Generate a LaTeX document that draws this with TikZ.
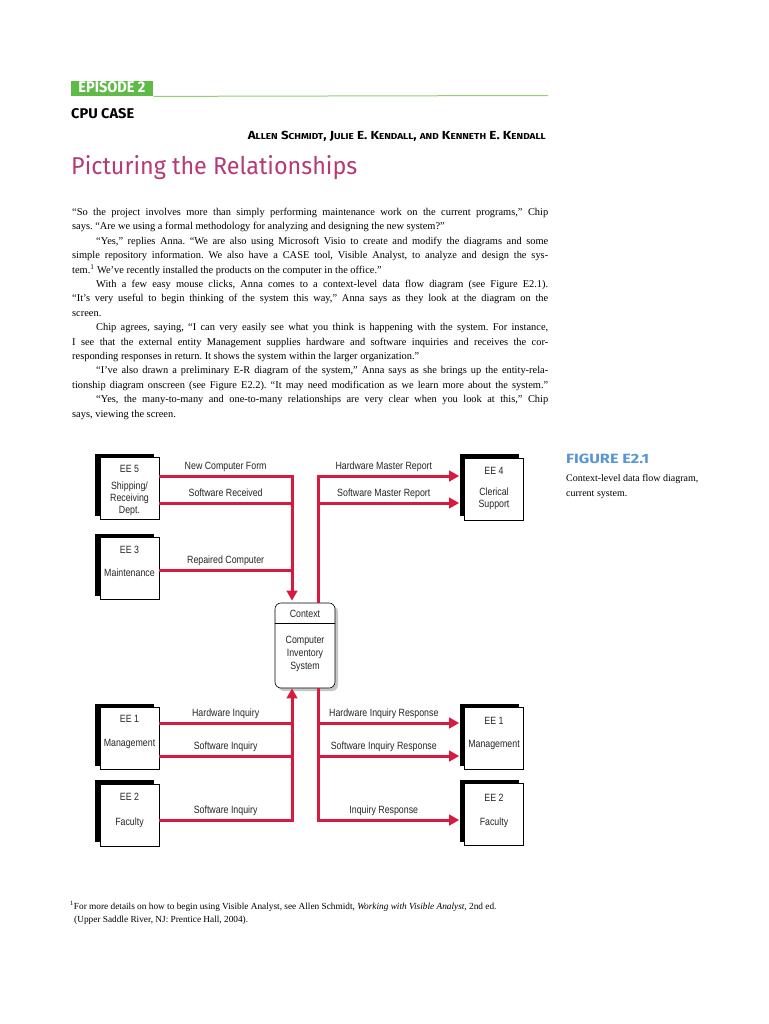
\documentclass[tikz,border=0pt]{standalone}
\usepackage{fontspec}
\setmainfont{Liberation Serif}
\newfontfamily\hfont{Fira Sans}
\newfontfamily\dfont[FakeStretch=0.84]{Liberation Sans}
\usetikzlibrary{arrows.meta,shadows}
\definecolor{flowred}{RGB}{214,28,62}
\definecolor{epgreen}{RGB}{96,186,72}
\definecolor{eplight}{RGB}{150,205,120}
\definecolor{titlepink}{RGB}{182,58,120}
\definecolor{figblue}{RGB}{88,150,212}
\frenchspacing
\newcommand\fsc[1]{{\fontsize{7.4}{9}\selectfont #1}}
\newcommand\jline[1]{\hbox to 476pt{#1}}
\newcommand\iline[1]{\hbox to 476pt{\hskip 24pt #1}}
\newcommand\eline[1]{\hbox{#1}}
\begin{document}
\begin{tikzpicture}[x=1pt,y=-1pt,
  flow/.style={draw=flowred, line width=3pt, line join=miter},
  arr/.style={-{Triangle[length=10pt,width=10.5pt]}},
  entity/.style={draw, line width=0.6pt, fill=white, minimum width=59pt, minimum height=62pt, inner sep=0pt,
     general shadow={fill=black, shadow xshift=-5pt, shadow yshift=4pt}},
  ctxbox/.style={draw, line width=0.6pt, fill=white, rounded corners=6pt, minimum width=60pt, minimum height=85pt, inner sep=0pt,
     general shadow={fill=black!22, shadow xshift=3pt, shadow yshift=-3pt}},
  etext/.style={font=\dfont\fontsize{10.5}{12}\selectfont, anchor=base, inner sep=0pt, text=black!85},
  lbl/.style={font=\dfont\fontsize{10.5}{12}\selectfont, anchor=base, inner sep=0pt, text=black!85},
  plain/.style={inner sep=0pt, anchor=base west}
]
\useasboundingbox (0,0) rectangle (768,1024);
\fill[white] (0,0) rectangle (768,1024);

% ---------- header ----------
\node[fill=epgreen, minimum width=82pt, minimum height=15.5pt, inner sep=0pt, anchor=north west] (epbox) at (71,80.5) {};
\node[anchor=base, text=white, inner sep=0pt] (eptext) at (112,93) {\resizebox{67pt}{11pt}{\hfont\bfseries EPISODE 2}};
\coordinate (ruleend) at (548,95.5);
\draw[eplight, line width=1pt] (epbox.south east) -- (ruleend);
\node[plain] (cpu) at (71,119) {\resizebox{63pt}{10pt}{\hfont\bfseries CPU CASE}};
\node[inner sep=0pt, anchor=base east] (authors) at (546,140) {\resizebox{298pt}{8.3pt}{\hfont\bfseries A\fsc{LLEN} S\fsc{CHMIDT}, J\fsc{ULIE} E. K\fsc{ENDALL}, \fsc{AND} K\fsc{ENNETH} E. K\fsc{ENDALL}}};
\node[plain, text=titlepink] (title) at (71,175) {\resizebox{286pt}{19pt}{\hfont Picturing the Relationships}};

% ---------- body text ----------
\node[plain] (body) at (72,215.5) {\begin{minipage}[t]{476pt}\fontsize{10.4}{14.4}\selectfont\baselineskip=14.4pt
\jline{“So the project involves more than simply performing maintenance work on the current programs,” Chip}
\eline{says. “Are we using a formal methodology for analyzing and designing the new system?”}
\iline{“Yes,” replies Anna. “We are also using Microsoft Visio to create and modify the diagrams and some}
\jline{simple repository information. We also have a CASE tool, Visible Analyst, to analyze and design the sys-}
\eline{tem.\textsuperscript{1} We’ve recently installed the products on the computer in the office.”}
\iline{With a few easy mouse clicks, Anna comes to a context-level data flow diagram (see Figure E2.1).}
\jline{“It’s very useful to begin thinking of the system this way,” Anna says as they look at the diagram on the}
\eline{screen.}
\iline{Chip agrees, saying, “I can very easily see what you think is happening with the system. For instance,}
\jline{I see that the external entity Management supplies hardware and software inquiries and receives the cor-}
\eline{responding responses in return. It shows the system within the larger organization.”}
\iline{“I’ve also drawn a preliminary E-R diagram of the system,” Anna says as she brings up the entity-rela-}
\jline{tionship diagram onscreen (see Figure E2.2). “It may need modification as we learn more about the system.”}
\iline{“Yes, the many-to-many and one-to-many relationships are very clear when you look at this,” Chip}
\eline{says, viewing the screen.}
\end{minipage}};

% ---------- figure caption ----------
\node[plain, text=figblue] (figlabel) at (566,463) {\resizebox{83pt}{9.5pt}{\hfont\bfseries FIGURE E2.1}};
\node[plain, font=\fontsize{10}{12}\selectfont] (figcap1) at (566,481.5) {Context-level data flow diagram,};
\node[plain, font=\fontsize{10}{12}\selectfont] (figcap2) at (566,496) {current system.};

% ---------- entities ----------
\node[entity] (ee5) at (129.5,488.5) {};
\node[entity] (ee3) at (129.5,568.5) {};
\node[entity] (ee4) at (494,489) {};
\node[entity] (ee1l) at (129.5,738.5) {};
\node[entity] (ee2l) at (129.5,815) {};
\node[entity] (ee1r) at (494,738.5) {};
\node[entity] (ee2r) at (494,814.5) {};

\node[etext] (t5a) at (129.5,472) {EE 5};
\node[etext] (t5b) at (129.5,489) {Shipping/};
\node[etext] (t5c) at (129.5,501) {Receiving};
\node[etext] (t5d) at (129.5,513) {Dept.};
\node[etext] (t3a) at (129.5,553) {EE 3};
\node[etext] (t3b) at (129.5,576) {Maintenance};
\node[etext] (t4a) at (494,474) {EE 4};
\node[etext] (t4b) at (494,495) {Clerical};
\node[etext] (t4c) at (494,507) {Support};
\node[etext] (t1la) at (129.5,722) {EE 1};
\node[etext] (t1lb) at (129.5,746) {Management};
\node[etext] (t2la) at (129.5,800) {EE 2};
\node[etext] (t2lb) at (129.5,825) {Faculty};
\node[etext] (t1ra) at (494,724) {EE 1};
\node[etext] (t1rb) at (494,747) {Management};
\node[etext] (t2ra) at (494,801) {EE 2};
\node[etext] (t2rb) at (494,825) {Faculty};

% ---------- context process ----------
\node[ctxbox] (ctx) at (305,645.5) {};
\draw[line width=0.6pt] ([yshift=-21pt]ctx.north west) -- ([yshift=-21pt]ctx.north east);
\node[etext] (ctxa) at (305,617) {Context};
\node[etext] (ctxb) at (305,643) {Computer};
\node[etext] (ctxc) at (305,656) {Inventory};
\node[etext] (ctxd) at (305,669) {System};

% ---------- junctions ----------
\coordinate (a1) at (292,476);
\coordinate (a2) at (292,503);
\coordinate (a3) at (292,570);
\coordinate (b1) at (318,476);
\coordinate (b2) at (318,503);
\coordinate (c1) at (292,723);
\coordinate (c2) at (292,756);
\coordinate (c3) at (292,820);
\coordinate (d1) at (318,723);
\coordinate (d2) at (318,756);
\coordinate (d3) at (318,820);

% ---------- flows in (top) ----------
\draw[flow, arr, shorten >=2pt] (ee5.east |- a1) -- node[lbl, yshift=6.5pt] (l1) {New Computer Form} (a1) -- (ctx.north -| a1);
\draw[flow] (ee5.east |- a2) -- node[lbl, yshift=6.5pt] (l2) {Software Received} (a2);
\draw[flow] (ee3.east |- a3) -- node[lbl, yshift=6.5pt] (l3) {Repaired Computer} (a3);

% ---------- flows out (top) ----------
\draw[flow, arr, shorten >=5pt] (ctx.north -| b1) -- (b1) -- node[lbl, pos=0.45, yshift=6.5pt] (l4) {Hardware Master Report} (ee4.west |- b1);
\draw[flow, arr, shorten >=5pt] (b2) -- node[lbl, pos=0.45, yshift=6.5pt] (l5) {Software Master Report} (ee4.west |- b2);

% ---------- flows in (bottom) ----------
\draw[flow, arr] (ee2l.east |- c3) -- node[lbl, yshift=6.5pt] (l8) {Software Inquiry} (c3) -- (ctx.south -| c3);
\draw[flow] (ee1l.east |- c1) -- node[lbl, yshift=6.5pt] (l6) {Hardware Inquiry} (c1);
\draw[flow] (ee1l.east |- c2) -- node[lbl, yshift=6.5pt] (l7) {Software Inquiry} (c2);

% ---------- flows out (bottom) ----------
\draw[flow, arr, shorten >=5pt] (ctx.south -| d3) -- (d3) -- node[lbl, pos=0.45, yshift=6.5pt] (l11) {Inquiry Response} (ee2r.west |- d3);
\draw[flow, arr, shorten >=5pt] (d1) -- node[lbl, pos=0.45, yshift=6.5pt] (l9) {Hardware Inquiry Response} (ee1r.west |- d1);
\draw[flow, arr, shorten >=5pt] (d2) -- node[lbl, pos=0.45, yshift=6.5pt] (l10) {Software Inquiry Response} (ee1r.west |- d2);

% ---------- footnote ----------
\node[plain, font=\fontsize{9.3}{11}\selectfont] (fn1) at (70,909) {\textsuperscript{1}For more details on how to begin using Visible Analyst, see Allen Schmidt, \textit{Working with Visible Analyst}, 2nd ed.};
\node[plain, font=\fontsize{9.3}{11}\selectfont] (fn2) at (74,922.5) {(Upper Saddle River, NJ: Prentice Hall, 2004).};
\end{tikzpicture}
\end{document}
